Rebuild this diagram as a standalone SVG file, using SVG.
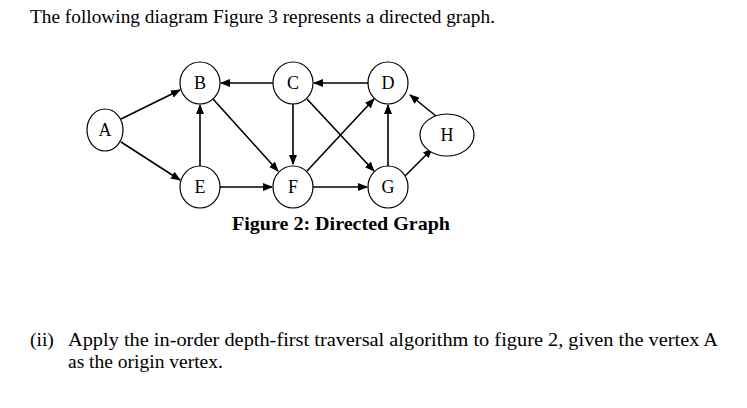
<svg xmlns="http://www.w3.org/2000/svg" width="747" height="408" viewBox="0 0 747 408">
<style>
text{font-family:"Liberation Serif",serif;fill:#000}
.t{font-size:19.5px}
.n ellipse{fill:#fff;stroke:#000;stroke-width:1.2}
.n text{font-size:18px;text-anchor:middle}
.e line{stroke:#000;stroke-width:1.6;marker-end:url(#ah)}
</style>
<defs><marker id="ah" markerWidth="10" markerHeight="8" refX="9" refY="4" orient="auto" markerUnits="userSpaceOnUse"><path d="M0,0L10,4L0,8z"/></marker></defs>
<rect width="747" height="408" fill="#fff"/>
<text class="t" x="30" y="23" textLength="465" lengthAdjust="spacingAndGlyphs">The following diagram Figure 3 represents a directed graph.</text>
<g class="e">
<line x1="121" y1="119" x2="180" y2="90"/>
<line x1="121" y1="142" x2="180" y2="180"/>
<line x1="274" y1="83" x2="221" y2="83"/>
<line x1="369" y1="83" x2="314" y2="83"/>
<line x1="200" y1="166" x2="200" y2="105"/>
<line x1="213" y1="99" x2="278" y2="171"/>
<line x1="293" y1="104" x2="293" y2="164"/>
<line x1="307" y1="99" x2="374" y2="171"/>
<line x1="220" y1="187" x2="272" y2="187"/>
<line x1="313" y1="187" x2="367" y2="187"/>
<line x1="307" y1="171" x2="374" y2="99"/>
<line x1="388" y1="166" x2="388" y2="105"/>
<line x1="405" y1="176" x2="432" y2="149"/>
<line x1="436" y1="116" x2="410" y2="95"/>
</g>
<g id="A" class="n"><ellipse cx="105" cy="130" rx="18" ry="21"/><text x="105" y="136">A</text></g>
<g id="B" class="n"><ellipse cx="200" cy="83" rx="20" ry="21"/><text x="200" y="89">B</text></g>
<g id="C" class="n"><ellipse cx="293" cy="83" rx="20" ry="21"/><text x="293" y="89">C</text></g>
<g id="D" class="n"><ellipse cx="388" cy="83" rx="20" ry="21"/><text x="388" y="89">D</text></g>
<g id="H" class="n"><ellipse cx="447" cy="135" rx="27" ry="21"/><text x="447" y="141">H</text></g>
<g id="E" class="n"><ellipse cx="200" cy="187" rx="20" ry="21"/><text x="200" y="193">E</text></g>
<g id="F" class="n"><ellipse cx="293" cy="187" rx="20" ry="21"/><text x="293" y="193">F</text></g>
<g id="G" class="n"><ellipse cx="388" cy="187" rx="20" ry="21"/><text x="388" y="193">G</text></g>
<text x="232" y="230" font-size="19.5" font-weight="bold" textLength="218" lengthAdjust="spacingAndGlyphs">Figure 2: Directed Graph</text>
<text class="t" x="30" y="346">(ii)</text>
<text class="t" x="68" y="346" textLength="650" lengthAdjust="spacingAndGlyphs">Apply the in-order depth-first traversal algorithm to figure 2, given the vertex A</text>
<text class="t" x="68" y="368">as the origin vertex.</text>
</svg>
